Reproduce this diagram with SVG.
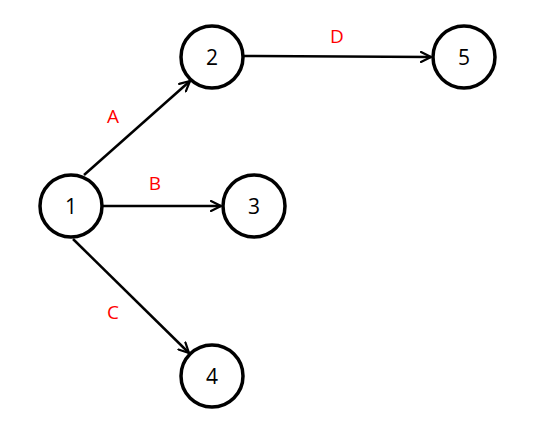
<svg xmlns="http://www.w3.org/2000/svg" width="547" height="439" viewBox="0 0 547 439">
<style>
.n{fill:#fff;stroke:#000;stroke-width:3.5}
.t{font-family:"Open Sans","Liberation Sans",sans-serif;font-size:21px;fill:#000;text-anchor:middle;dominant-baseline:central}
.l{font-family:"Open Sans","Liberation Sans",sans-serif;font-size:19px;fill:#ff0000;text-anchor:middle;dominant-baseline:central}
.e{stroke:#000;stroke-width:2.5;fill:none;marker-end:url(#ah)}
</style>
<defs>
<marker id="ah" viewBox="0 0 12 12" refX="11" refY="6" markerWidth="12" markerHeight="12" markerUnits="userSpaceOnUse" orient="auto">
<path d="M1,1 L11,6 L1,11" fill="none" stroke="#000" stroke-width="2.2" stroke-linecap="round" stroke-linejoin="round"/>
</marker>
</defs>
<rect width="547" height="439" fill="#fff"/>
<g id="connectors">
<line class="e" x1="84" y1="175" x2="190" y2="81"/>
<line class="e" x1="102" y1="206" x2="221" y2="206"/>
<line class="e" x1="73" y1="239" x2="189" y2="353"/>
<line class="e" x1="243" y1="56" x2="431" y2="57"/>
<text class="l" x="113" y="116">A</text>
<text class="l" x="155" y="183">B</text>
<text class="l" x="113" y="312">C</text>
<text class="l" x="337" y="36">D</text>
</g>
<g id="node1"><circle class="n" cx="71" cy="206" r="31"/><text class="t" x="71" y="206">1</text></g>
<g id="node2"><circle class="n" cx="212" cy="57" r="31"/><text class="t" x="212" y="57">2</text></g>
<g id="node3"><circle class="n" cx="254" cy="206" r="31"/><text class="t" x="254" y="206">3</text></g>
<g id="node4"><circle class="n" cx="212" cy="376" r="31"/><text class="t" x="212" y="376">4</text></g>
<g id="node5"><circle class="n" cx="464" cy="57" r="31"/><text class="t" x="464" y="57">5</text></g>
</svg>
